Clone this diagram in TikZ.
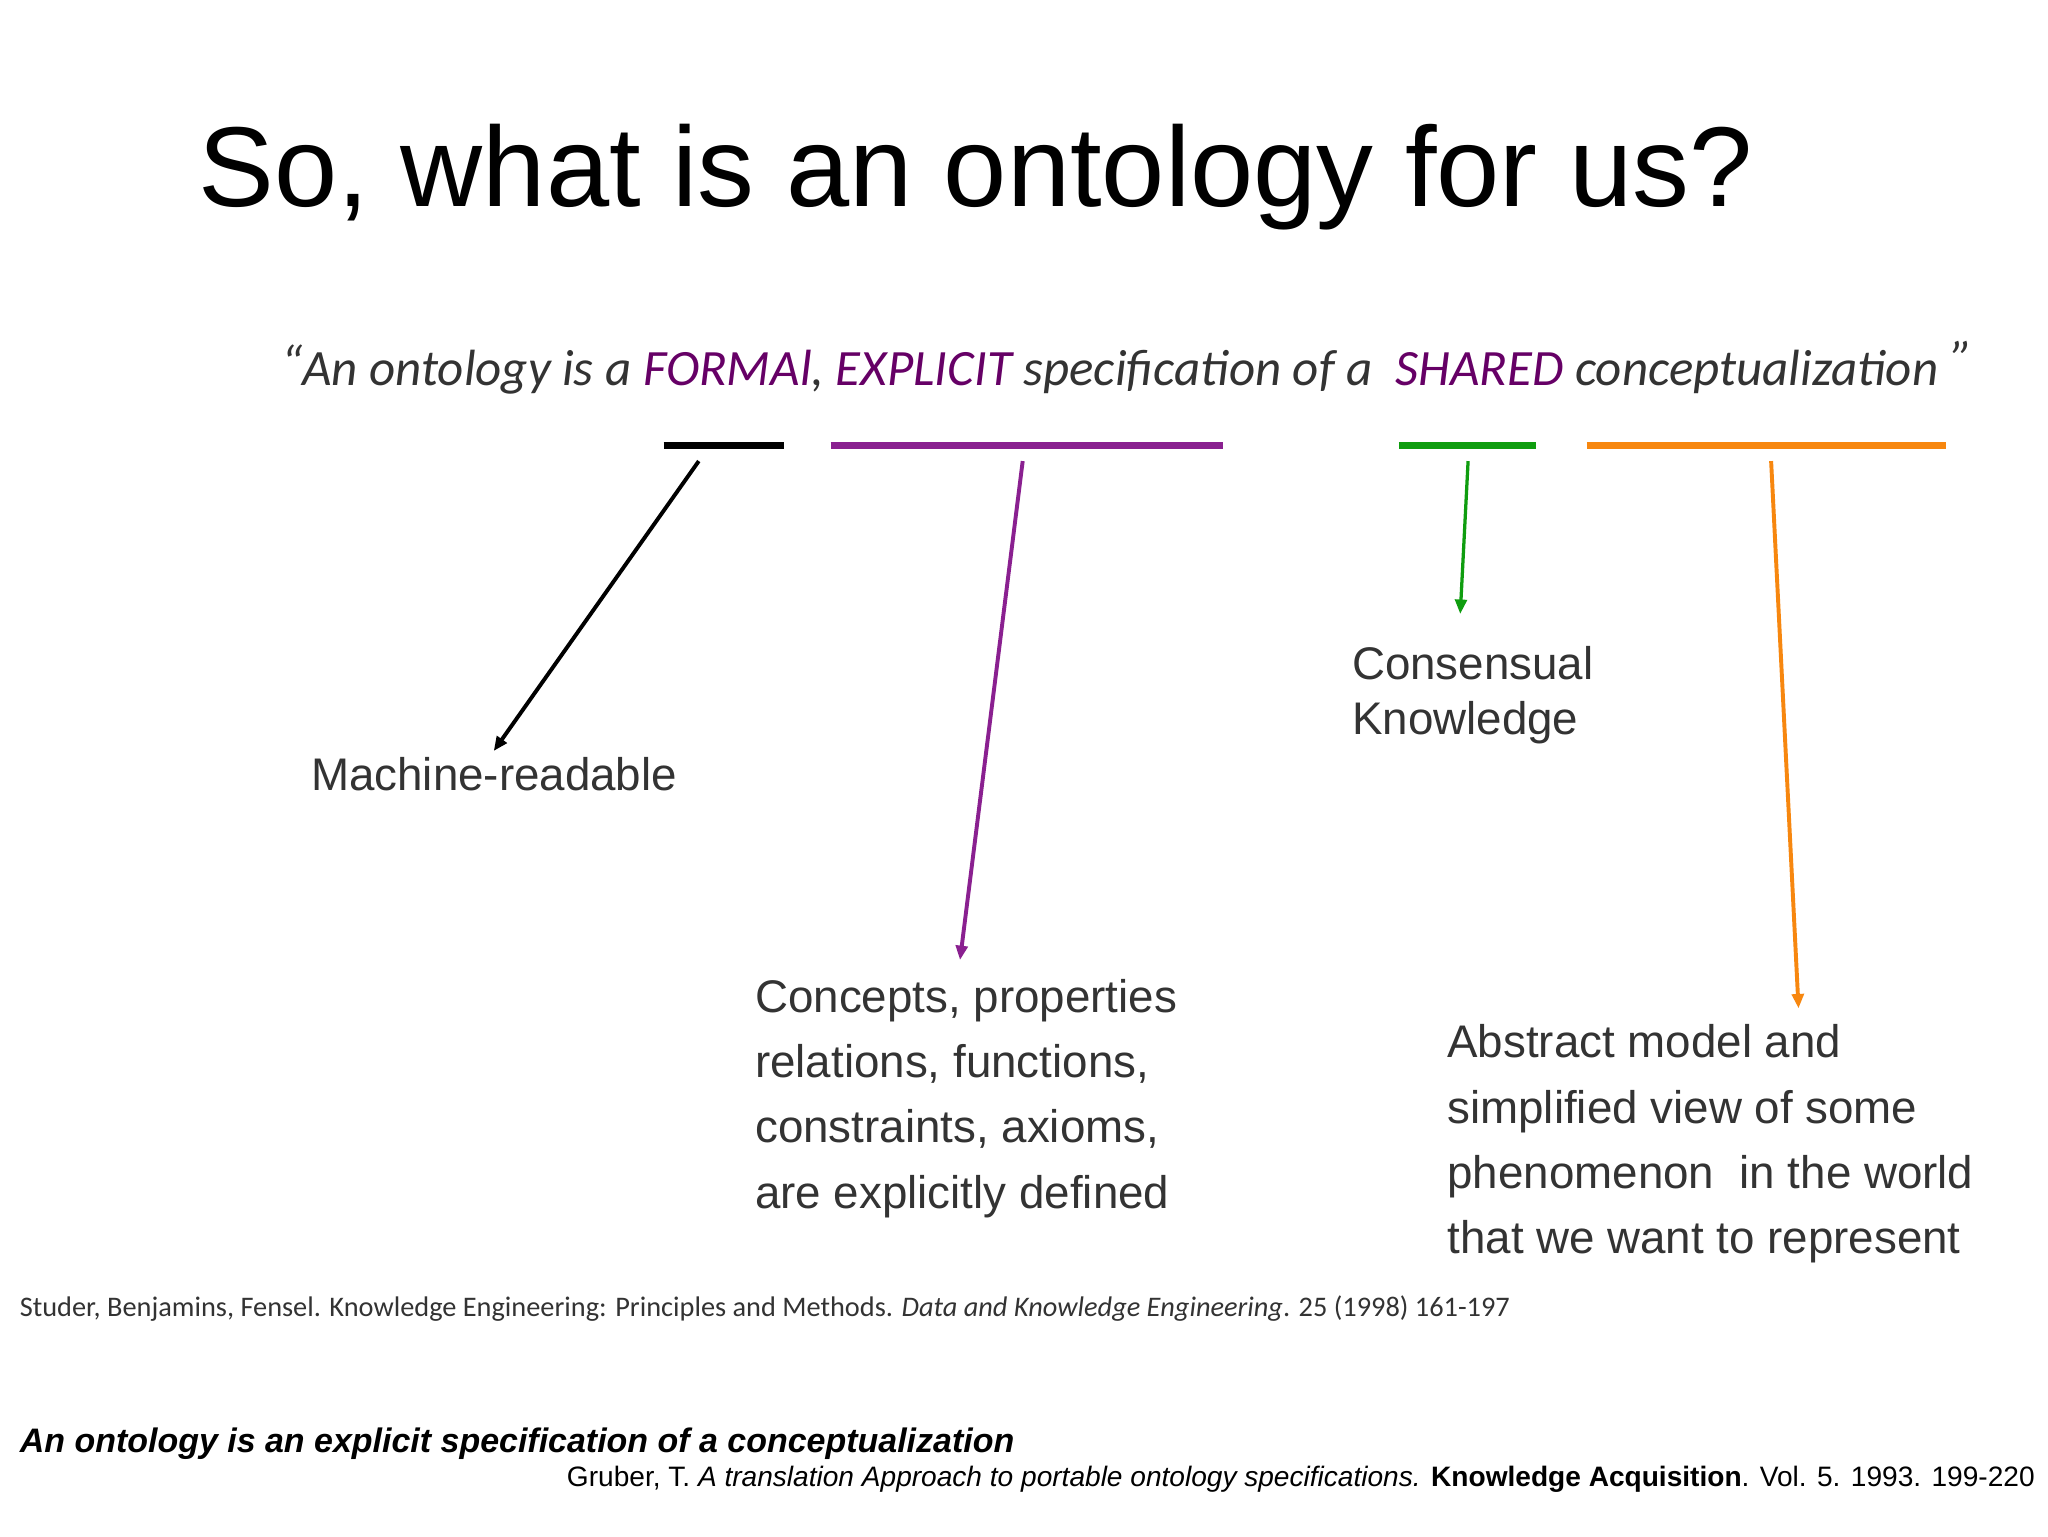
\documentclass[tikz,border=0pt]{standalone}
\usepackage{fontspec}
\setmainfont{Liberation Sans}
\newfontfamily\calfont{Carlito}
\usetikzlibrary{arrows.meta}
\definecolor{txtgray}{HTML}{333333}
\definecolor{qpurple}{HTML}{660066}
\definecolor{barpurple}{HTML}{8A2090}
\definecolor{bargreen}{HTML}{0F9D0F}
\definecolor{barorange}{HTML}{F7870F}
\tikzset{
  bar/.style={line width=5pt},
  pointer/.style={line width=3pt,-{Triangle[length=11pt,width=9pt]}},
  body/.style={text=txtgray,inner sep=0pt,font=\fontsize{35}{50}\selectfont,align=left},
  plain/.style={inner sep=0pt}
}
\begin{document}
\begin{tikzpicture}[x=1pt,y=-1pt]
\useasboundingbox[fill=white] (0,0) rectangle (1568,1176);
% title
\node[plain,anchor=base west,font=\fontsize{87}{100}\selectfont] (title) at (152,158) {So, what is an ontology for us?};
% quote
\node[plain,anchor=base west,text=txtgray,font=\calfont\itshape\fontsize{39}{44}\selectfont] (quote) at (215,295)
  {\raisebox{3pt}{“}An ontology is a \textcolor{qpurple}{FORMAl}, \textcolor{qpurple}{EXPLICIT} specification of a\ \ \textcolor{qpurple}{SHARED} conceptualization\hspace{10pt}\raisebox{7pt}{”}};
% bars
\draw[bar,black] (508,341) -- (600,341);
\draw[bar,barpurple] (636,341) -- (936,341);
\draw[bar,bargreen] (1071,341) -- (1176,341);
\draw[bar,barorange] (1215,341) -- (1490,341);
% arrow ends
\coordinate (s1) at (535,353); \coordinate (e1) at (378,575);
\coordinate (s2) at (783,353); \coordinate (e2) at (735,735);
\coordinate (s3) at (1124,353); \coordinate (e3) at (1118,470);
\coordinate (s4) at (1356,353); \coordinate (e4) at (1377,772);
\draw[pointer,black] (s1) -- (e1);
\draw[pointer,barpurple] (s2) -- (e2);
\draw[pointer,bargreen,line width=2.5pt] (s3) -- (e3);
\draw[pointer,barorange] (s4) -- (e4);
% labels (base anchor = baseline of last line)
\node[body,anchor=base west] (mach) at (238,605) {Machine-readable};
\node[body,anchor=base west,font=\fontsize{35}{42}\selectfont] (cons) at (1035,562) {Consensual\\Knowledge};
\node[body,anchor=base west] (conc) at (578,925) {Concepts, properties\\relations, functions,\\constraints, axioms,\\are explicitly defined};
\node[body,anchor=base west] (abst) at (1108,960) {Abstract model and\\simplified view of some\\phenomenon\ \ in the world\\that we want to represent};
% references
\node[plain,anchor=base west,text=txtgray,font=\calfont\fontsize{21.7}{25}\selectfont] (studer) at (15,1008)
  {Studer, Benjamins, Fensel. Knowledge Engineering: Principles and Methods. \textit{Data and Knowledge Engineering}. 25 (1998) 161-197};
\node[plain,anchor=base west,font=\bfseries\itshape\fontsize{26}{30}\selectfont] (def) at (15,1112)
  {An ontology is an explicit specification of a conceptualization};
\node[plain,anchor=base east,font=\fontsize{21.5}{25}\selectfont] (gruber) at (1558,1138)
  {Gruber, T. \textit{A translation Approach to portable ontology specifications.} \textbf{Knowledge Acquisition}. Vol. 5. 1993. 199-220};
\end{tikzpicture}
\end{document}
